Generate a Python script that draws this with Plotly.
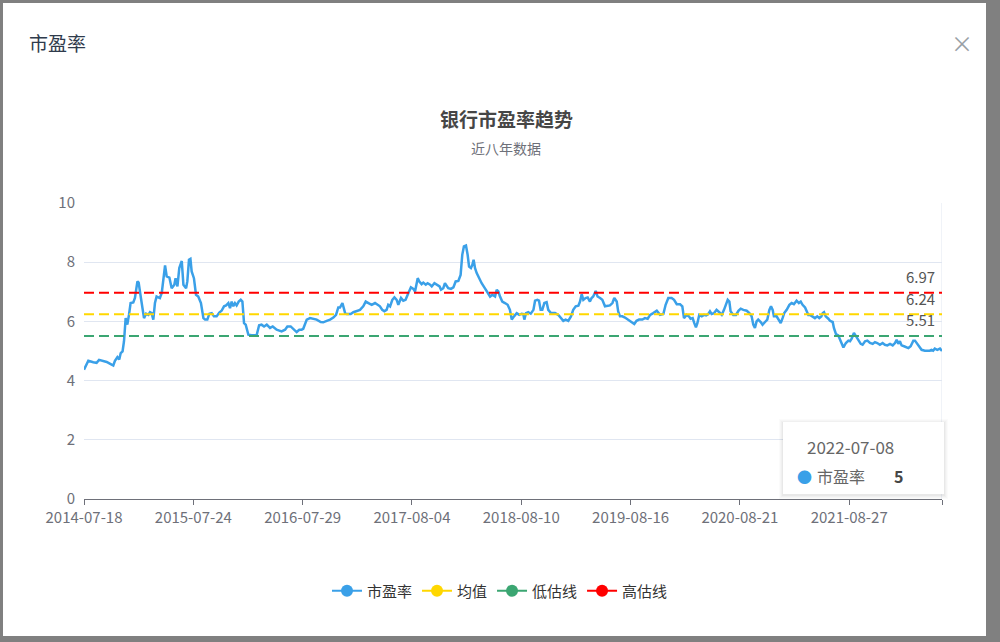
import plotly.graph_objects as go
from datetime import datetime, timedelta

# ---------------- data ----------------
START = datetime(2014, 7, 18)
TOTAL_WEEKS = 416  # 2014-07-18 .. 2022-07-08, weekly

week_offset = [
    0, 2.1, 4.5, 6.1, 7.3, 9.4, 11.0, 13.4, 14.2, 15.0, 16.2, 17.1, 17.8, 18.7, 19.4,
    20.2, 21.0, 21.8, 22.6, 23.9, 24.7, 25.9, 26.5, 27.6, 29.1, 30.1, 31.2, 32.0, 32.8,
    33.6, 34.4, 35.2, 36.8, 37.7, 38.5, 39.3, 40.1, 41.4, 42.5, 43.8, 44.4, 45.3, 46.2,
    47.4, 48.2, 49.5, 50.1, 50.9, 51.6, 52.2, 53.3, 54.3, 55.4, 56.7, 57.9, 58.7, 59.8,
    60.8, 61.9, 63.0, 64.3, 65.6, 66.7, 67.9, 68.9, 70.0, 70.8, 71.6, 72.4, 73.2, 74.0,
    75.0, 76.0, 76.8, 77.6, 78.4, 79.7, 81.3, 83.7, 84.9, 86.1, 87.3, 88.6, 90.2, 91.5,
    93.4, 94.7, 95.8, 97.5, 98.6, 100.2, 101.5, 103.1, 104.4, 105.5, 106.3, 108.0, 109.6,
    111.2, 112.8, 114.8, 116.0, 117.7, 119.3, 120.9, 122.2, 123.3, 124.1, 125.3, 126.6,
    127.4, 129.3, 130.6, 132.2, 133.8, 135.4, 136.6,
    137.9, 139.5, 141.1, 142.4, 143.5, 144.6, 145.6, 146.7, 147.5, 148.4, 149.5, 150.5,
    151.6, 152.4, 153.7, 154.8, 155.9, 157.3, 158.5, 159.7, 160.5, 161.8, 162.6, 163.7,
    164.5, 165.7, 166.6, 167.8, 168.6, 169.9, 171.0, 172.4, 173.1, 174.2, 175.0, 175.8,
    176.6, 177.9, 179.1, 180.2, 181.5, 182.6, 183.4, 184.2, 185.2, 186.0, 186.7, 187.6,
    188.3, 188.9, 189.6, 190.4, 191.5, 192.8, 194.1, 195.2, 196.0, 196.9, 198.0, 199.3,
    200.1, 200.9, 201.7, 202.8, 204.1, 205.4, 206.5, 207.4, 208.5, 209.8, 211.0, 212.2,
    213.0, 213.5, 214.3, 215.4, 216.6, 217.9, 218.7, 219.8, 220.6, 221.4, 222.2, 223.2,
    224.3, 225.1, 226.4, 228.4, 230.0, 231.3, 232.4, 233.5, 234.8, 236.1, 237.2, 238.4,
    239.7, 240.5, 241.3, 242.1, 243.2, 244.2, 245.3, 246.1, 246.9, 248.1, 249.0, 250.2,
    251.3, 252.6, 253.9, 255.0, 256.2, 257.1, 258.3, 259.0, 259.9, 261.0, 262.3, 263.9,
    265.5, 266.8, 267.9, 269.1, 270.7, 272.0, 273.3, 274.5,
    276.0, 277.7, 279.3, 280.9, 282.0, 283.3, 284.9, 286.1, 287.4, 289.0, 290.1, 290.9,
    292.2, 293.3, 294.1, 295.1, 295.9, 296.7, 297.4, 298.3, 299.5, 300.6, 301.6, 302.7,
    303.5, 304.3, 305.5, 306.7, 308.0, 309.2, 310.3, 311.3, 312.1, 312.9, 313.5, 314.8,
    316.1, 317.3, 318.4, 319.7, 321.3, 322.6, 323.7, 324.5, 325.3, 326.1, 326.9, 328.1,
    329.0, 330.2, 331.3, 332.3, 333.1, 333.9, 334.5, 335.8, 336.6, 337.8, 338.7, 339.5,
    340.7, 342.0, 343.1, 344.2, 345.5, 346.6, 347.5, 348.4, 349.6, 350.4, 351.2, 352.0,
    353.1, 354.4, 355.5, 356.5, 357.5, 358.2, 358.8, 359.6, 360.9, 361.7, 363.0, 363.6,
    364.6, 365.7, 366.6, 367.4, 368.2, 369.4, 370.6, 371.4, 372.2, 373.3, 374.3, 375.4,
    376.6, 377.5, 378.7, 379.8, 381.1, 382.4, 383.5, 384.6, 385.9, 387.2, 388.3, 389.5,
    390.8, 392.1, 393.2, 394.0, 394.8, 395.6, 396.4, 397.6, 398.6, 399.7, 400.8, 402.1,
    402.9, 403.7, 405.0, 406.1, 407.7, 408.8, 410.1, 410.9, 411.7, 412.5, 413.7, 415.0,
    416,
]

pe_values = [
    4.37, 4.67, 4.62, 4.60, 4.70, 4.65, 4.63, 4.54, 4.51, 4.67, 4.79, 4.71, 4.93, 4.99, 5.33,
    6.11, 5.89, 6.22, 6.62, 6.64, 6.79, 7.35, 7.31, 6.79, 6.11, 6.26, 6.22, 6.31, 6.28,
    6.06, 6.62, 6.84, 6.79, 6.96, 7.46, 7.89, 7.52, 7.48, 7.12, 7.24, 7.46, 7.18, 7.80,
    8.04, 7.24, 7.12, 7.35, 8.08, 8.11, 7.69, 7.46, 6.90, 6.84, 6.62, 6.11, 6.06, 6.06,
    6.26, 6.28, 6.17, 6.17, 6.30, 6.36, 6.51, 6.54, 6.62, 6.45, 6.67, 6.51, 6.62, 6.54,
    6.67, 6.73, 6.67, 5.94, 5.89, 5.55, 5.53, 5.53, 5.87, 5.89, 5.83, 5.89, 5.78, 5.83,
    5.72, 5.69, 5.66, 5.72, 5.83, 5.83, 5.75, 5.64, 5.72, 5.72, 5.75, 6.06, 6.11,
    6.09, 6.06, 5.98, 5.97, 6.02, 6.06, 6.13, 6.22, 6.47, 6.47, 6.62, 6.28,
    6.25, 6.25, 6.31, 6.36, 6.39, 6.51, 6.67,
    6.62, 6.56, 6.62, 6.56, 6.51, 6.39, 6.34, 6.39, 6.56, 6.51, 6.73, 6.81,
    6.73, 6.56, 6.79, 6.70, 6.73, 6.96, 7.15, 7.10, 7.01, 7.46, 7.35, 7.26,
    7.31, 7.24, 7.29, 7.24, 7.18, 7.29, 7.24, 7.18, 7.07, 7.12, 7.29, 7.18,
    7.12, 7.10, 7.15, 7.35, 7.37, 7.57, 8.25, 8.53, 8.56, 8.25, 7.85, 7.80,
    7.91, 8.08, 7.80, 7.63, 7.46, 7.29, 7.15, 7.01, 6.92, 6.84, 6.90, 6.84,
    7.07, 7.01, 6.84, 6.67, 6.62, 6.56, 6.39, 6.06, 6.17, 6.28, 6.22, 6.26,
    6.25, 6.06, 6.28, 6.31, 6.26, 6.39, 6.70, 6.73, 6.70, 6.39, 6.39, 6.62,
    6.65, 6.39, 6.28, 6.28, 6.22, 6.09, 6.02, 6.06, 6.02, 6.17, 6.39, 6.51,
    6.53, 6.67, 6.92, 6.73, 6.79, 6.81, 6.67, 6.79, 6.84, 7.03, 6.84, 6.79,
    6.73, 6.51, 6.54, 6.54, 6.62, 6.79, 6.67, 6.34, 6.17, 6.17, 6.13, 6.06,
    5.98, 5.91, 6.02, 6.06, 6.06, 6.11, 6.09, 6.22,
    6.28, 6.36, 6.22, 6.25, 6.56, 6.79, 6.79, 6.73, 6.58, 6.58, 6.51, 6.11,
    6.22, 6.17, 6.09, 6.11, 5.94, 5.80, 5.94, 6.22, 6.17, 6.22, 6.20, 6.25,
    6.34, 6.25, 6.28, 6.39, 6.31, 6.22, 6.39, 6.56, 6.73, 6.67, 6.34, 6.22,
    6.22, 6.36, 6.43, 6.39, 6.36, 6.28, 6.17, 5.89, 5.78, 6.00, 6.06, 5.98,
    5.89, 5.98, 6.06, 6.39, 6.51, 6.39, 6.17, 6.17, 6.06, 5.94, 6.11, 6.28,
    6.39, 6.56, 6.62, 6.58, 6.70, 6.62, 6.67, 6.56, 6.47, 6.34, 6.22, 6.22,
    6.17, 6.11, 6.17, 6.11, 6.17, 6.28, 6.31, 6.17, 6.09, 6.02, 5.98, 5.78,
    5.57, 5.53, 5.38, 5.21, 5.12, 5.27, 5.35, 5.33, 5.42, 5.61, 5.49, 5.35,
    5.24, 5.21, 5.33, 5.35, 5.27, 5.24, 5.30, 5.27, 5.21, 5.27, 5.21, 5.19,
    5.24, 5.19, 5.27, 5.38, 5.24, 5.33, 5.19, 5.16, 5.12, 5.10, 5.16, 5.35,
    5.35, 5.27, 5.16, 5.04, 5.01, 5.01, 5.01, 5.04, 5.01, 5.08, 5.04, 5.08,
    5.00,
]

mean_value = 6.24
low_value = 5.51
high_value = 6.97

tick_labels = ["2014-07-18", "2015-07-24", "2016-07-29", "2017-08-04",
               "2018-08-10", "2019-08-16", "2020-08-21", "2021-08-27"]
last_label = "2022-07-08"
last_value = 5

series_names = ["市盈率", "均值", "低估线", "高估线"]
series_colors = ["#3aa0e8", "#ffd700", "#3ba672", "#ff0000"]

# ---------------- figure ----------------
FONT = "Noto Sans CJK SC, Noto Sans, sans-serif"
W, H = 1000, 642
L, R, T, B = 84, 942, 203, 499  # plot area in pixels


def fx(px):
    return (px - L) / (R - L)


def fy(py):
    return (B - py) / (B - T)


dates = [START + timedelta(days=7 * w) for w in week_offset]
x_start = START
x_end = START + timedelta(weeks=TOTAL_WEEKS)

fig = go.Figure()

fig.add_trace(go.Scatter(
    x=dates, y=pe_values, mode="lines", name=series_names[0],
    line=dict(color=series_colors[0], width=2.5), showlegend=False, hoverinfo="skip",
))

for name, val, col in zip(series_names[1:], [mean_value, low_value, high_value], series_colors[1:]):
    fig.add_trace(go.Scatter(
        x=[x_start, x_end], y=[val, val], mode="lines", name=name,
        line=dict(color=col, width=2, dash="10px,5px"), showlegend=False, hoverinfo="skip",
    ))

# legend entries (line + circle)
for name, col in zip(series_names, series_colors):
    fig.add_trace(go.Scatter(
        x=[None], y=[None], mode="lines+markers", name=name,
        line=dict(color=col, width=2), marker=dict(color=col, size=12, symbol="circle"),
    ))

# mark line labels
for val in [high_value, mean_value, low_value]:
    fig.add_annotation(x=x_end, y=val, xref="x", yref="y", text=f"{val:.2f}",
                       showarrow=False, xanchor="right", yanchor="middle",
                       xshift=-5, yshift=16,
                       font=dict(family=FONT, size=15, color="#555"))

tick_vals = [START + timedelta(weeks=53 * i) for i in range(len(tick_labels))] + [x_end]
tick_text = tick_labels + [""]

shapes = []
# outer dimmed page frame
frame = "#808080"
shapes += [
    dict(type="rect", xref="paper", yref="paper", x0=fx(0), x1=fx(W), y0=fy(0), y1=fy(3),
         fillcolor=frame, line=dict(width=0), layer="above"),
    dict(type="rect", xref="paper", yref="paper", x0=fx(0), x1=fx(3), y0=fy(0), y1=fy(H),
         fillcolor=frame, line=dict(width=0), layer="above"),
    dict(type="rect", xref="paper", yref="paper", x0=fx(0), x1=fx(W), y0=fy(636), y1=fy(H),
         fillcolor=frame, line=dict(width=0), layer="above"),
    dict(type="rect", xref="paper", yref="paper", x0=fx(986), x1=fx(W), y0=fy(0), y1=fy(H),
         fillcolor=frame, line=dict(width=0), layer="above"),
]
# axis pointer line at last point
shapes.append(dict(type="line", xref="x", yref="paper", x0=x_end, x1=x_end, y0=0, y1=1,
                   line=dict(color="#e0e6f1", width=1), layer="below"))
# tooltip box (soft shadow + box)
for pad, alpha in [(4, 0.015), (3, 0.02), (2, 0.025), (1, 0.03)]:
    shapes.append(dict(type="rect", xref="paper", yref="paper", x0=fx(783 - pad), x1=fx(944 + pad),
                       y0=fy(494 + pad + 1), y1=fy(422 - pad + 1),
                       fillcolor=f"rgba(0,0,0,{alpha})", line=dict(width=0), layer="above"))
shapes.append(dict(type="rect", xref="paper", yref="paper", x0=fx(783), x1=fx(944),
                   y0=fy(494), y1=fy(422), fillcolor="white",
                   line=dict(width=0), layer="above"))
fig.update_layout(shapes=shapes)

# texts: dialog title, close button, chart title, subtitle, tooltip
fig.add_annotation(xref="paper", yref="paper", x=fx(27), y=fy(42), text="市盈率",
                   showarrow=False, xanchor="left", yanchor="middle",
                   font=dict(family=FONT, size=19, color="#2f3b4c"))
fig.add_annotation(xref="paper", yref="paper", x=fx(962), y=fy(42), text="×",
                   showarrow=False, xanchor="center", yanchor="middle",
                   font=dict(family=FONT, size=22, color="#9aa0a6"))
fig.add_annotation(xref="paper", yref="paper", x=fx(506), y=fy(118), text="<b>银行市盈率趋势</b>",
                   showarrow=False, xanchor="center", yanchor="middle",
                   font=dict(family=FONT, size=19, color="#464646"))
fig.add_annotation(xref="paper", yref="paper", x=fx(506), y=fy(148), text="近八年数据",
                   showarrow=False, xanchor="center", yanchor="middle",
                   font=dict(family=FONT, size=14, color="#6e7079"))
fig.add_annotation(xref="paper", yref="paper", x=fx(850), y=fy(446), text=last_label,
                   showarrow=False, xanchor="center", yanchor="middle",
                   font=dict(family=FONT, size=17, color="#666"))
fig.add_annotation(xref="paper", yref="paper", x=fx(795), y=fy(476), text="●",
                   showarrow=False, xanchor="left", yanchor="middle",
                   font=dict(family=FONT, size=15, color=series_colors[0]))
fig.add_annotation(xref="paper", yref="paper", x=fx(815), y=fy(476), text=series_names[0],
                   showarrow=False, xanchor="left", yanchor="middle",
                   font=dict(family=FONT, size=16, color="#666"))
fig.add_annotation(xref="paper", yref="paper", x=fx(905), y=fy(476), text=f"<b>{last_value}</b>",
                   showarrow=False, xanchor="right", yanchor="middle",
                   font=dict(family=FONT, size=16, color="#464646"))

fig.update_layout(
    width=W, height=H,
    margin=dict(l=L, r=W - R, t=T, b=H - B, pad=0),
    paper_bgcolor="white", plot_bgcolor="white",
    font=dict(family=FONT, size=15, color="#6e7079"),
    showlegend=True,
    legend=dict(orientation="h", x=fx(500), xanchor="center",
                y=fy(591), yanchor="middle", font=dict(family=FONT, size=15, color="#333"),
                bgcolor="rgba(0,0,0,0)"),
    xaxis=dict(type="date", range=[x_start, x_end], tickmode="array",
               tickvals=tick_vals, ticktext=tick_text,
               showgrid=False, zeroline=False, showline=True, linecolor="#6e7079", linewidth=1,
               ticks="outside", ticklen=5, tickcolor="#6e7079",
               tickfont=dict(family=FONT, size=15, color="#6e7079")),
    yaxis=dict(range=[0, 10], tickvals=[0, 2, 4, 6, 8, 10], showgrid=True,
               gridcolor="#e0e6f1", gridwidth=1, zeroline=False, showline=False,
               ticks="", ticklabelstandoff=8,
               tickfont=dict(family=FONT, size=15, color="#6e7079")),
)

fig.write_html("out.html", config={"displayModeBar": False})
